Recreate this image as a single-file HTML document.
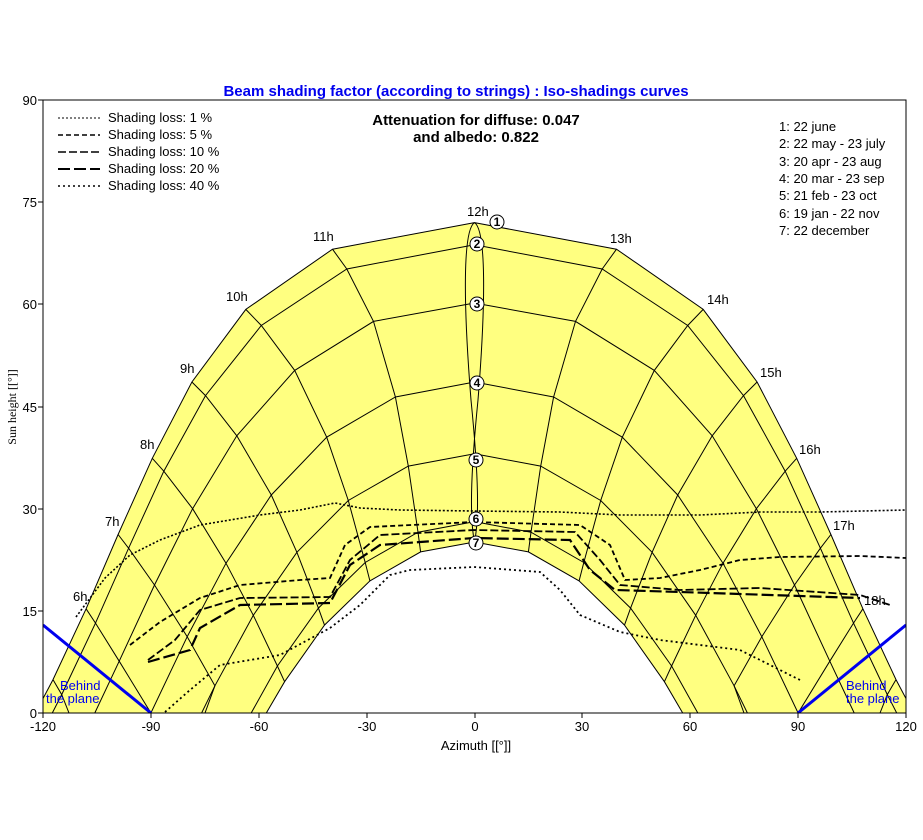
<!DOCTYPE html>
<html><head><meta charset="utf-8"><style>
body{margin:0;background:#fff;}
svg{display:block;font-family:"Liberation Sans",Arial,sans-serif;}
</style></head><body>
<svg width="923" height="840" viewBox="0 0 923 840" xmlns="http://www.w3.org/2000/svg">
<rect width="923" height="840" fill="#fff"/>
<defs><clipPath id="cp"><rect x="43" y="100" width="863" height="613"/></clipPath></defs>
<g clip-path="url(#cp)">
<g id="half">
<polygon fill="#ffff80" stroke="none" points="474.5,222.6 616.5,249.2 703.2,309.4 757.1,382 796.7,458.3 830.9,534.5 862.9,608.8 896,679.6 906,698.7 906,713 682.7,713 664.4,681.7 624.5,625.1 579.1,580.9 528.4,551.9 474.5,542"/>
<g fill="none" stroke="#000" stroke-width="1">
<polyline points="474.5,222.6 616.5,249.2 703.2,309.4 757.1,382 796.7,458.3 830.9,534.5 862.9,608.8 896,679.6 913.6,713"/>
<polyline points="474.5,244.7 602.2,269 687.7,325.5 743.5,395.6 785.2,471.2 820.4,548.2 853.5,623.1 887.3,694.6 896.7,713"/>
<polyline points="474.5,303 575.5,321.4 654.3,370.4 712.2,435.8 756.4,508.7 794.5,585 829.8,661.2 854.2,713"/>
<polyline points="474.5,382 553.6,397 622.3,437.2 677.7,495 723,563.2 761.8,636.7 798.1,713"/>
<polyline points="474.5,453.8 540.7,466.1 600.7,500.5 652.1,552.3 695.7,615.3 734.1,685.8 747.4,713"/>
<polyline points="474.5,521.6 531,532.2 583.8,562.5 630.6,608.1 671.6,666 697.8,713"/>
<polyline points="474.5,542 528.4,551.9 579.1,580.9 624.5,625.1 664.4,681.7 682.7,713"/>
<polyline points="616.5,249.2 602.2,269 575.5,321.4 553.6,397 540.7,466.1 531,532.2 528.4,551.9"/>
<polyline points="703.2,309.4 687.7,325.5 654.3,370.4 622.3,437.2 600.7,500.5 583.8,562.5 579.1,580.9"/>
<polyline points="757.1,382 743.5,395.6 712.2,435.8 677.7,495 652.1,552.3 630.6,608.1 624.5,625.1"/>
<polyline points="796.7,458.3 785.2,471.2 756.4,508.7 723,563.2 695.7,615.3 671.6,666 664.4,681.7"/>
<polyline points="830.9,534.5 820.4,548.2 794.5,585 761.8,636.7 734.1,685.8 744,713"/>
<polyline points="862.9,608.8 853.5,623.1 829.8,661.2 798.1,713"/>
<polyline points="896,679.6 887.3,694.6 880,713"/>
</g>
</g>
<use href="#half" transform="translate(949,0) scale(-1,1)"/>
<path d="M474.5,222.6 C486,230 486,300 478,400 C470,480 470,520 474.5,542 M474.5,222.6 C463,230 463,300 471,400 C479,480 479,520 474.5,542" fill="none" stroke="#000" stroke-width="1"/>
<g fill="none" stroke="#000">
<polyline stroke-width="1.6" stroke-dasharray="2,2" points="76,617 105,578 130,555 160,540 200,525 260,515 300,510 335,503 360,508 400,510 474,511 560,512 620,515 700,515 760,512 820,512 906,510"/>
<polyline stroke-width="1.8" stroke-dasharray="5,3" points="130,645 160,622 200,598 240,585 300,580 330,578 345,545 370,527 474,522 580,525 610,545 625,580 660,578 700,570 740,560 780,557 860,556 906,558"/>
<polyline stroke-width="1.8" stroke-dasharray="8,3" points="148,660 175,640 200,610 240,598 330,597 350,560 380,535 474,530 575,532 600,560 620,585 680,590 760,588 860,595 890,605"/>
<polyline stroke-width="2.2" stroke-dasharray="12,4" points="148,662 190,650 200,628 240,605 330,603 350,565 380,545 474,538 570,540 590,570 615,590 680,592 740,594 800,596 860,598"/>
<polyline stroke-width="1.8" stroke-dasharray="2,3" points="165,712 190,690 220,665 280,655 330,628 360,605 390,575 410,570 474,567 540,572 560,590 580,615 620,632 660,640 700,645 740,650 800,680"/>
</g>
<line x1="43" y1="625" x2="151" y2="713" stroke="#0000ee" stroke-width="3"/>
<line x1="798" y1="713" x2="906" y2="625" stroke="#0000ee" stroke-width="3"/>
</g>
<g stroke="#000" fill="#fff">
<circle cx="497" cy="222" r="7"/><circle cx="477" cy="244" r="7"/><circle cx="477" cy="304" r="7"/>
<circle cx="477" cy="383" r="7"/><circle cx="476" cy="460" r="7"/><circle cx="476" cy="519" r="7"/><circle cx="476" cy="543" r="7"/>
</g>
<g font-size="12" font-weight="bold" text-anchor="middle">
<text x="497" y="226">1</text><text x="477" y="248">2</text><text x="477" y="308">3</text>
<text x="477" y="387">4</text><text x="476" y="464">5</text><text x="476" y="523">6</text><text x="476" y="547">7</text>
</g>
<rect x="43" y="100" width="863" height="613" fill="none" stroke="#000" stroke-width="1"/>
<text x="456" y="96" text-anchor="middle" font-size="15" font-weight="bold" fill="#0000ee">Beam shading factor (according to strings) : Iso-shadings curves</text>
<text x="476" y="125" text-anchor="middle" font-size="15" font-weight="bold">Attenuation for diffuse: 0.047</text>
<text x="476" y="142" text-anchor="middle" font-size="15" font-weight="bold">and albedo: 0.822</text>
<g font-size="13">
<text x="779" y="131">1: 22 june</text>
<text x="779" y="148">2: 22 may - 23 july</text>
<text x="779" y="166">3: 20 apr - 23 aug</text>
<text x="779" y="183">4: 20 mar - 23 sep</text>
<text x="779" y="200">5: 21 feb - 23 oct</text>
<text x="779" y="218">6: 19 jan - 22 nov</text>
<text x="779" y="235">7: 22 december</text>
</g>
<g stroke="#000" fill="none">
<line x1="58" y1="118" x2="100" y2="118" stroke-dasharray="2,2"/>
<line x1="58" y1="135" x2="100" y2="135" stroke-dasharray="5,3" stroke-width="1.5"/>
<line x1="58" y1="152" x2="100" y2="152" stroke-dasharray="8,3" stroke-width="1.5"/>
<line x1="58" y1="169" x2="100" y2="169" stroke-dasharray="12,4" stroke-width="2"/>
<line x1="58" y1="186" x2="100" y2="186" stroke-dasharray="2,3" stroke-width="1.5"/>
</g>
<g font-size="13">
<text x="108" y="122">Shading loss: 1 %</text>
<text x="108" y="139">Shading loss: 5 %</text>
<text x="108" y="156">Shading loss: 10 %</text>
<text x="108" y="173">Shading loss: 20 %</text>
<text x="108" y="190">Shading loss: 40 %</text>
</g>
<g font-size="13" text-anchor="middle">
<text x="43" y="731">-120</text><text x="151" y="731">-90</text><text x="259" y="731">-60</text>
<text x="367" y="731">-30</text><text x="475" y="731">0</text><text x="582" y="731">30</text>
<text x="690" y="731">60</text><text x="798" y="731">90</text><text x="906" y="731">120</text>
</g>
<g stroke="#000">
<line x1="43" y1="713" x2="43" y2="718"/><line x1="151" y1="713" x2="151" y2="718"/><line x1="259" y1="713" x2="259" y2="718"/>
<line x1="367" y1="713" x2="367" y2="718"/><line x1="475" y1="713" x2="475" y2="718"/><line x1="582" y1="713" x2="582" y2="718"/>
<line x1="690" y1="713" x2="690" y2="718"/><line x1="798" y1="713" x2="798" y2="718"/><line x1="906" y1="713" x2="906" y2="718"/>
<line x1="38" y1="713" x2="43" y2="713"/><line x1="38" y1="611" x2="43" y2="611"/><line x1="38" y1="509" x2="43" y2="509"/>
<line x1="38" y1="407" x2="43" y2="407"/><line x1="38" y1="304" x2="43" y2="304"/><line x1="38" y1="202" x2="43" y2="202"/><line x1="38" y1="100" x2="43" y2="100"/>
</g>
<g font-size="13" text-anchor="end">
<text x="37" y="718">0</text><text x="37" y="616">15</text><text x="37" y="514">30</text>
<text x="37" y="412">45</text><text x="37" y="309">60</text><text x="37" y="207">75</text><text x="37" y="105">90</text>
</g>
<text x="476" y="750" text-anchor="middle" font-size="13">Azimuth [[°]]</text>
<text transform="translate(16,407) rotate(-90)" text-anchor="middle" font-size="12" font-family="Liberation Serif,serif">Sun height [[°]]</text>
<g font-size="13" fill="#0000ee">
<text x="60" y="690">Behind</text><text x="46" y="703">the plane</text>
<text x="846" y="690">Behind</text><text x="846" y="703">the plane</text>
</g>
<g font-size="13">
<text x="73" y="601">6h</text><text x="105" y="526">7h</text><text x="140" y="449">8h</text>
<text x="180" y="373">9h</text><text x="226" y="301">10h</text><text x="313" y="241">11h</text>
<text x="467" y="216">12h</text><text x="610" y="243">13h</text><text x="707" y="304">14h</text>
<text x="760" y="377">15h</text><text x="799" y="454">16h</text><text x="833" y="530">17h</text>
<text x="864" y="605">18h</text>
</g>
</svg>
</body></html>
